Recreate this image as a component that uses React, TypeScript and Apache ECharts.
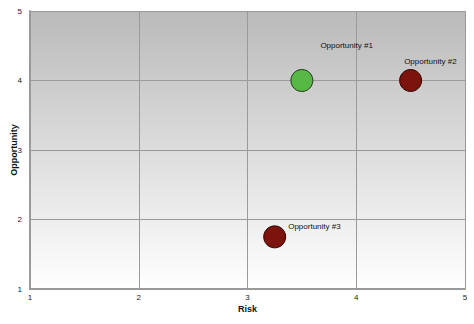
import React, { useEffect, useRef } from "react";
import * as echarts from "echarts";

const names = ["Opportunity #1", "Opportunity #2", "Opportunity #3"];
const risk = [3.5, 4.5, 3.25];
const opportunity = [4, 4, 1.75];
const colors = ["#58b845", "#7c130c", "#7c130c"];
const borders = ["#1f3d14", "#2e0603", "#2e0603"];
const xTicks = [1, 2, 3, 4, 5];
const yTicks = [1, 2, 3, 4, 5];

const labelOffsets: [number, number][] = [
  [7, -35],
  [-18, -19],
  [2, -10],
];

export default function App() {
  const ref = useRef<HTMLDivElement>(null);
  useEffect(() => {
    if (!ref.current) return;
    const chart = echarts.init(ref.current, undefined, { renderer: "svg" });
    chart.setOption({
      animation: false,
      grid: {
        left: 30,
        right: 9,
        top: 11,
        bottom: 35,
        show: true,
        borderWidth: 0,
        containLabel: false,
        outerBoundsMode: "none",
        backgroundColor: new echarts.graphic.LinearGradient(0, 0, 0, 1, [
          { offset: 0, color: "#bababa" },
          { offset: 1, color: "#ffffff" },
        ]),
      },
      xAxis: {
        type: "value",
        min: xTicks[0],
        max: xTicks[xTicks.length - 1],
        interval: 1,
        name: "Risk",
        nameLocation: "middle",
        nameGap: 15,
        nameMoveOverlap: false,
        nameTextStyle: { fontFamily: "Liberation Sans", fontSize: 9, fontWeight: "bold", color: "#111" },
        axisLine: { lineStyle: { color: "#9a9a9a", width: 2 } },
        axisTick: { show: false },
        axisLabel: { fontFamily: "Liberation Sans", fontSize: 8, color: "#222", margin: 4 },
        splitLine: { lineStyle: { color: "#9a9a9a", width: 1 } },
      },
      yAxis: {
        type: "value",
        min: yTicks[0],
        max: yTicks[yTicks.length - 1],
        interval: 1,
        name: "Opportunity",
        nameLocation: "middle",
        nameGap: 12,
        nameRotate: 90,
        nameMoveOverlap: false,
        nameTextStyle: { fontFamily: "Liberation Sans", fontSize: 9, fontWeight: "bold", color: "#111" },
        axisLine: { show: true, lineStyle: { color: "#9a9a9a", width: 2 } },
        axisTick: { show: false },
        axisLabel: { fontFamily: "Liberation Sans", fontSize: 8, color: "#222", margin: 8 },
        splitLine: { lineStyle: { color: "#9a9a9a", width: 1 } },
      },
      series: [
        {
          type: "scatter",
          symbolSize: 22,
          data: names.map((n, i) => ({
            name: n,
            value: [risk[i], opportunity[i]],
            itemStyle: { color: colors[i], borderColor: borders[i], borderWidth: 1, opacity: 1 },
            label: {
              show: true,
              formatter: n,
              position: "right",
              distance: 0,
              offset: labelOffsets[i],
              fontFamily: "Liberation Sans",
              fontSize: 8,
              color: "#111",
            },
          })),
        },
      ],
    });
    return () => chart.dispose();
  }, []);
  return <div ref={ref} style={{ width: 474, height: 324, position: "absolute", left: 0, top: 0 }} />;
}
